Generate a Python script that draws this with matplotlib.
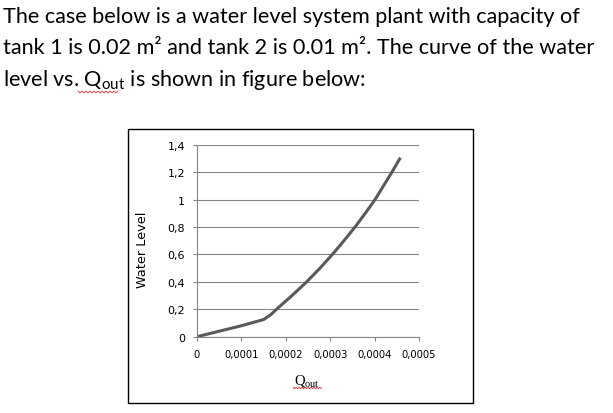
import matplotlib.pyplot as plt
from matplotlib.patches import Rectangle
import numpy as np

# water level vs. outflow
q_out = [0, 0.00005, 0.0001, 0.00015, 0.000166, 0.000179, 0.000214, 0.000247,
         0.000277, 0.000305, 0.000331, 0.000356, 0.000379, 0.000401, 0.00042,
         0.000439, 0.000458]
level = [0, 0.04, 0.08, 0.125, 0.16, 0.2, 0.3, 0.4, 0.5, 0.6, 0.7, 0.8, 0.9,
         1.0, 1.1, 1.2, 1.305]

x_ticks = [0, 0.0001, 0.0002, 0.0003, 0.0004, 0.0005]
x_labels = ["0", "0,0001", "0,0002", "0,0003", "0,0004", "0,0005"]
y_ticks = [0, 0.2, 0.4, 0.6, 0.8, 1.0, 1.2, 1.4]
y_labels = ["0", "0,2", "0,4", "0,6", "0,8", "1", "1,2", "1,4"]

W, H = 613, 414
fig = plt.figure(figsize=(W / 100, H / 100), dpi=100)

def fx(px):
    return px / W

def fy(py):
    return 1 - py / H

# paragraph above the chart
para_font = "Lato"
para_size = 15.6
fig.text(fx(3), fy(23), "The case below is a water level system plant with capacity of",
         fontsize=para_size, family=para_font, va="baseline")
fig.text(fx(3), fy(54), "tank 1 is 0.02 m\u00b2 and tank 2 is 0.01 m\u00b2. The curve of the water",
         fontsize=para_size, family=para_font, va="baseline")
fig.text(fx(3), fy(86), r"level vs. $\mathregular{Q_{out}}$ is shown in figure below:",
         fontsize=para_size, family=para_font, va="baseline")

def squiggle(x0, x1, y, step=2.0, amp=1.0):
    # red spell-check underline
    xs = np.arange(x0, x1 + 0.1, step)
    ys = [y + (amp if i % 2 else -amp) for i in range(len(xs))]
    fig.add_artist(plt.Line2D([fx(v) for v in xs], [fy(v) for v in ys],
                              color="#e03030", lw=0.6))

squiggle(78, 118, 93)

# frame around the chart picture
fig.add_artist(Rectangle((fx(128), fy(404)), (473 - 128) / W, (404 - 130) / H,
                         fill=False, edgecolor="black", lw=1.0))

ax = fig.add_axes([fx(197), fy(337.7), (419 - 197) / W, (337.7 - 145.7) / H])
ax.plot(q_out, level, color="#595959", lw=2.2, solid_capstyle="butt")

ax.set_xlim(0, 0.0005)
ax.set_ylim(0, 1.4)
ax.set_xticks(x_ticks)
ax.set_xticklabels(x_labels)
ax.set_yticks(y_ticks)
ax.set_yticklabels(y_labels)
ax.grid(axis="y", color="#868686", lw=0.8)
ax.set_axisbelow(True)

for side in ["top", "right"]:
    ax.spines[side].set_visible(False)
for side in ["left", "bottom"]:
    ax.spines[side].set_color("#868686")
    ax.spines[side].set_linewidth(0.8)

ax.tick_params(axis="both", colors="#868686", labelcolor="black",
               length=3, width=0.8)
ax.tick_params(axis="y", pad=5.5, labelsize=8)
ax.tick_params(axis="x", pad=6, labelsize=7.2)

fig.text(fx(143), fy(250), "Water Level", rotation=90, fontsize=9.3,
         ha="center", va="center")
fig.text(fx(307), fy(385), r"$\mathregular{Q_{out}}$", fontsize=10.5,
         family="Liberation Serif", ha="center", va="baseline")
squiggle(293, 322, 389, step=1.5, amp=0.7)

fig.savefig("out.png", dpi=100)
